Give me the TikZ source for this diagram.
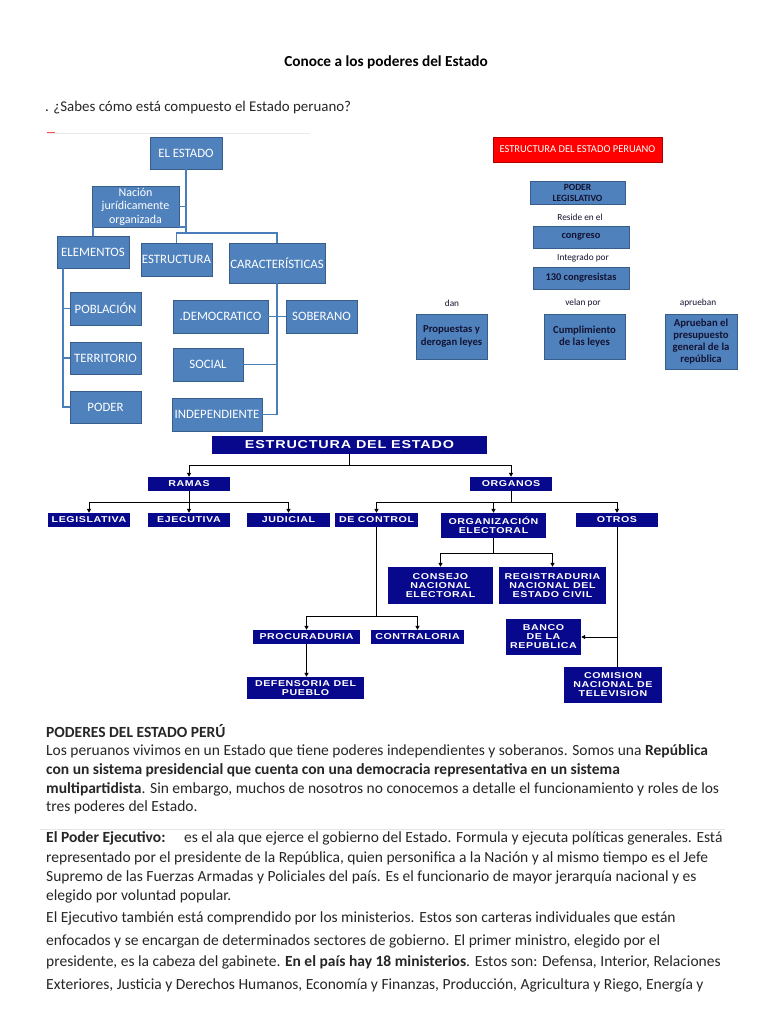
\documentclass[tikz,border=0pt]{standalone}
\usepackage{fontspec}
\setmainfont{Carlito}
\newfontfamily\arialsp[LetterSpace=7, FakeStretch=1.25]{Liberation Sans}
\usetikzlibrary{arrows.meta}
\definecolor{sblue}{RGB}{79,129,189}
\definecolor{sbord}{RGB}{56,93,138}
\definecolor{slinec}{RGB}{74,126,187}
\definecolor{navyc}{RGB}{8,8,140}
\definecolor{dtext}{RGB}{20,20,50}
\definecolor{redc}{RGB}{255,0,0}
\begin{document}
\begin{tikzpicture}[x=1pt,y=-1pt,
  sbox/.style={draw=sbord, line width=0.6pt, fill=sblue, text=white, inner sep=0pt, align=center, font=\fontsize{12.8}{14}\selectfont},
  lbox/.style={sbox, text=dtext, font=\fontsize{10.7}{12.2}\selectfont\bfseries},
  nbox/.style={fill=navyc, text=white, inner sep=0pt, align=center, font=\arialsp\bfseries\fontsize{8.5}{9}\selectfont},
  bline/.style={draw=slinec, line width=1.8pt},
  arr/.style={draw=black, line width=1pt, -{Triangle[length=4pt,width=4pt]}},
  pln/.style={draw=black, line width=1pt},
  lbl/.style={inner sep=0pt, font=\fontsize{9.3}{11}\selectfont, text=dtext},
  bodytxt/.style={anchor=base west, inner sep=0pt, font=\fontsize{15.5}{18}\selectfont, text=black!85}]
\useasboundingbox[fill=white] (0,0) rectangle (768,1024);

% titles
\node[anchor=base, inner sep=0pt, font=\fontsize{15.3}{18}\selectfont\bfseries] (titulo) at (386,67) {Conoce a los poderes del Estado};
\node[anchor=base west, inner sep=0pt, font=\fontsize{14.9}{17}\selectfont, text=black!85] (preg) at (45,112) {. ¿Sabes cómo está compuesto el Estado peruano?};
\draw[black!8, line width=0.8pt] (47,133) -- (310,133);
\draw[redc!70, line width=1pt] (47,133) -- (55,133);

% ---------- top-left tree ----------
\node[sbox, minimum width=72pt, minimum height=32pt] (estado) at (186,153) {EL ESTADO};
\node[sbox, minimum width=87pt, minimum height=41pt, font=\fontsize{12}{13.5}\selectfont] (nacion) at (135.5,206.5) {Nación\\jurídicamente\\organizada};
\node[sbox, minimum width=72pt, minimum height=32pt] (elementos) at (93,252) {ELEMENTOS};
\node[sbox, minimum width=71pt, minimum height=33pt] (estructura) at (176.5,259.5) {ESTRUCTURA};
\node[sbox, minimum width=96pt, minimum height=40pt] (caract) at (277,263) {CARACTERÍSTICAS};
\node[sbox, minimum width=71pt, minimum height=33pt] (poblacion) at (105.5,308.5) {POBLACIÓN};
\node[sbox, minimum width=71pt, minimum height=32pt] (territorio) at (105.5,358) {TERRITORIO};
\node[sbox, minimum width=71pt, minimum height=32pt] (poder) at (105.5,407) {PODER};
\node[sbox, minimum width=95pt, minimum height=33pt] (democ) at (220.5,316.5) {.DEMOCRATICO};
\node[sbox, minimum width=71pt, minimum height=33pt] (soberano) at (321.5,316.5) {SOBERANO};
\node[sbox, minimum width=70pt, minimum height=33pt] (social) at (208,364.5) {SOCIAL};
\node[sbox, minimum width=90pt, minimum height=33pt] (indep) at (217,414.5) {INDEPENDIENTE};

\coordinate (j1) at (186,233);
\coordinate (ev) at (63,0);
\draw[bline] (estado.south) -- (j1);
\draw[bline] (estructura.north) |- (j1) -| (caract.north);
\draw[bline] (nacion.east) -- (nacion.east -| estado.south);
\draw[bline] (nacion.south east) -- (nacion.south east -| estado.south);
\draw[bline] (elementos.north) -- (elementos.north |- nacion.south);
\draw[bline] (elementos.south -| ev) |- (poder.west);
\draw[bline] (poblacion.west) -- (poblacion.west -| ev);
\draw[bline] (territorio.west) -- (territorio.west -| ev);
\draw[bline] (caract.south) |- (indep.east);
\draw[bline] (democ.east) -- (soberano.west);
\draw[bline] (social.east) -- (social.east -| caract.south);

% ---------- right diagram ----------
\node[fill=redc, draw=red!70!black, line width=0.5pt, text=white, inner sep=0pt, minimum width=169pt, minimum height=25pt, font=\fontsize{10.5}{12}\selectfont] (rojo) at (577.5,149.5) {ESTRUCTURA DEL ESTADO PERUANO};
\node[lbox, minimum width=95pt, minimum height=23pt, font=\fontsize{9.5}{11}\selectfont\bfseries] (pleg) at (577.5,192.5) {PODER\\LEGISLATIVO};
\node[lbl] (reside) at (580,217) {Reside en el};
\node[lbox, minimum width=96pt, minimum height=22pt, font=\fontsize{10.4}{12}\selectfont\bfseries] (congreso) at (581,237) {congreso};
\node[lbl] (integ) at (583,258) {Integrado por};
\node[lbox, minimum width=96pt, minimum height=22pt, font=\fontsize{10.4}{12}\selectfont\bfseries] (c130) at (581,278) {130 congresistas};
\node[lbl] (dan) at (452,303) {dan};
\node[lbl] (velan) at (583,303) {velan por};
\node[lbl] (aprueban) at (698,303) {aprueban};
\node[lbox, minimum width=71pt, minimum height=45pt] (prop) at (451.5,336.5) {Propuestas y\\derogan leyes};
\node[lbox, minimum width=81pt, minimum height=45pt] (cumpl) at (584.5,336.5) {Cumplimiento\\de las leyes};
\node[lbox, minimum width=72pt, minimum height=55pt] (aprob) at (701,341.5) {Aprueban el\\presupuesto\\general de la\\república};

% ---------- lower diagram ----------
\node[nbox, minimum width=275pt, minimum height=18pt, font=\arialsp\bfseries\fontsize{11.5}{12}\selectfont] (ede) at (349.5,445) {ESTRUCTURA DEL ESTADO};
\node[nbox, minimum width=82pt, minimum height=14pt] (ramas) at (189,484) {RAMAS};
\node[nbox, minimum width=82pt, minimum height=14pt] (organos) at (511,484) {ORGANOS};
\node[nbox, minimum width=82pt, minimum height=14pt] (legis) at (89,520) {LEGISLATIVA};
\node[nbox, minimum width=82pt, minimum height=14pt] (ejec) at (189,520) {EJECUTIVA};
\node[nbox, minimum width=83pt, minimum height=14pt] (judic) at (288.5,520) {JUDICIAL};
\node[nbox, minimum width=83pt, minimum height=14pt] (decontrol) at (376.5,520) {DE CONTROL};
\node[nbox, minimum width=105pt, minimum height=25pt] (orgelec) at (493.5,525.5) {ORGANIZACIÓN\\ELECTORAL};
\node[nbox, minimum width=82pt, minimum height=14pt] (otros) at (617,520) {OTROS};
\node[nbox, minimum width=105pt, minimum height=37pt] (consejo) at (440.5,585.5) {CONSEJO\\NACIONAL\\ELECTORAL};
\node[nbox, minimum width=107pt, minimum height=37pt] (regis) at (552.5,585.5) {REGISTRADURIA\\NACIONAL DEL\\ESTADO CIVIL};
\node[nbox, minimum width=107pt, minimum height=14pt] (procu) at (306.5,637) {PROCURADURIA};
\node[nbox, minimum width=93pt, minimum height=14pt] (contra) at (417.5,637) {CONTRALORIA};
\node[nbox, minimum width=117pt, minimum height=22pt] (defens) at (305.5,688) {DEFENSORIA DEL\\PUEBLO};
\node[nbox, minimum width=75pt, minimum height=36pt] (banco) at (543.5,637) {BANCO\\DE LA\\REPUBLICA};
\node[nbox, minimum width=98pt, minimum height=36pt] (comision) at (613,685) {COMISION\\NACIONAL DE\\TELEVISION};

\draw[arr] (ede.south) -- +(0,11) -| (ramas.north);
\draw[arr] (ede.south) -- +(0,11) -| (organos.north);
\draw[arr] (ramas.south) -- (ejec.north);
\draw[arr] (ramas.south) -- +(0,11) -| (legis.north);
\draw[arr] (ramas.south) -- +(0,11) -| (judic.north);
\draw[arr] (organos.south) -- +(0,11) -| (decontrol.north);
\draw[arr] (organos.south) -- +(0,11) -| (orgelec.north);
\draw[arr] (organos.south) -- +(0,11) -| (otros.north);
\draw[arr] (orgelec.south) -- +(0,15) -| (consejo.north);
\draw[arr] (orgelec.south) -- +(0,15) -| (regis.north);
\draw[arr] (decontrol.south) -- +(0,89) -| (procu.north);
\draw[arr] (decontrol.south) -- +(0,89) -| (contra.north);
\draw[arr] (procu.south) -- (procu.south |- defens.north);
\draw[pln] (otros.south) -- (otros.south |- comision.north);
\draw[arr] (otros.south |- banco.east) -- (banco.east);

% ---------- text ----------
\node[bodytxt, font=\fontsize{15.5}{18}\selectfont\bfseries] (h1) at (46,737) {PODERES DEL ESTADO PERÚ};
\node[bodytxt] (p1) at (46,755) {Los peruanos vivimos en un Estado que tiene poderes independientes y soberanos. Somos una \textbf{República}};
\node[bodytxt] (p2) at (46,774) {\textbf{con un sistema presidencial que cuenta con una democracia representativa en un sistema}};
\node[bodytxt] (p3) at (46,793) {\textbf{multipartidista}. Sin embargo, muchos de nosotros no conocemos a detalle el funcionamiento y roles de los};
\node[bodytxt] (p4) at (46,811) {tres poderes del Estado.};

\draw[black!10, line width=0.8pt] (40,829) -- (725,829);

\node[bodytxt] (q1) at (46,842) {\textbf{El Poder Ejecutivo:}\hspace{1.2em}es el ala que ejerce el gobierno del Estado. Formula y ejecuta políticas generales. Está};
\node[bodytxt] (q2) at (46,862) {representado por el presidente de la República, quien personifica a la Nación y al mismo tiempo es el Jefe};
\node[bodytxt] (q3) at (46,881) {Supremo de las Fuerzas Armadas y Policiales del país. Es el funcionario de mayor jerarquía nacional y es};
\node[bodytxt] (q4) at (46,900) {elegido por voluntad popular.};
\node[bodytxt] (q5) at (46,922) {El Ejecutivo también está comprendido por los ministerios. Estos son carteras individuales que están};
\node[bodytxt] (q6) at (46,945) {enfocados y se encargan de determinados sectores de gobierno. El primer ministro, elegido por el};
\node[bodytxt] (q7) at (46,966) {presidente, es la cabeza del gabinete. \textbf{En el país hay 18 ministerios}. Estos son: Defensa, Interior, Relaciones};
\node[bodytxt] (q8) at (46,989) {Exteriores, Justicia y Derechos Humanos, Economía y Finanzas, Producción, Agricultura y Riego, Energía y};
\end{tikzpicture}
\end{document}
